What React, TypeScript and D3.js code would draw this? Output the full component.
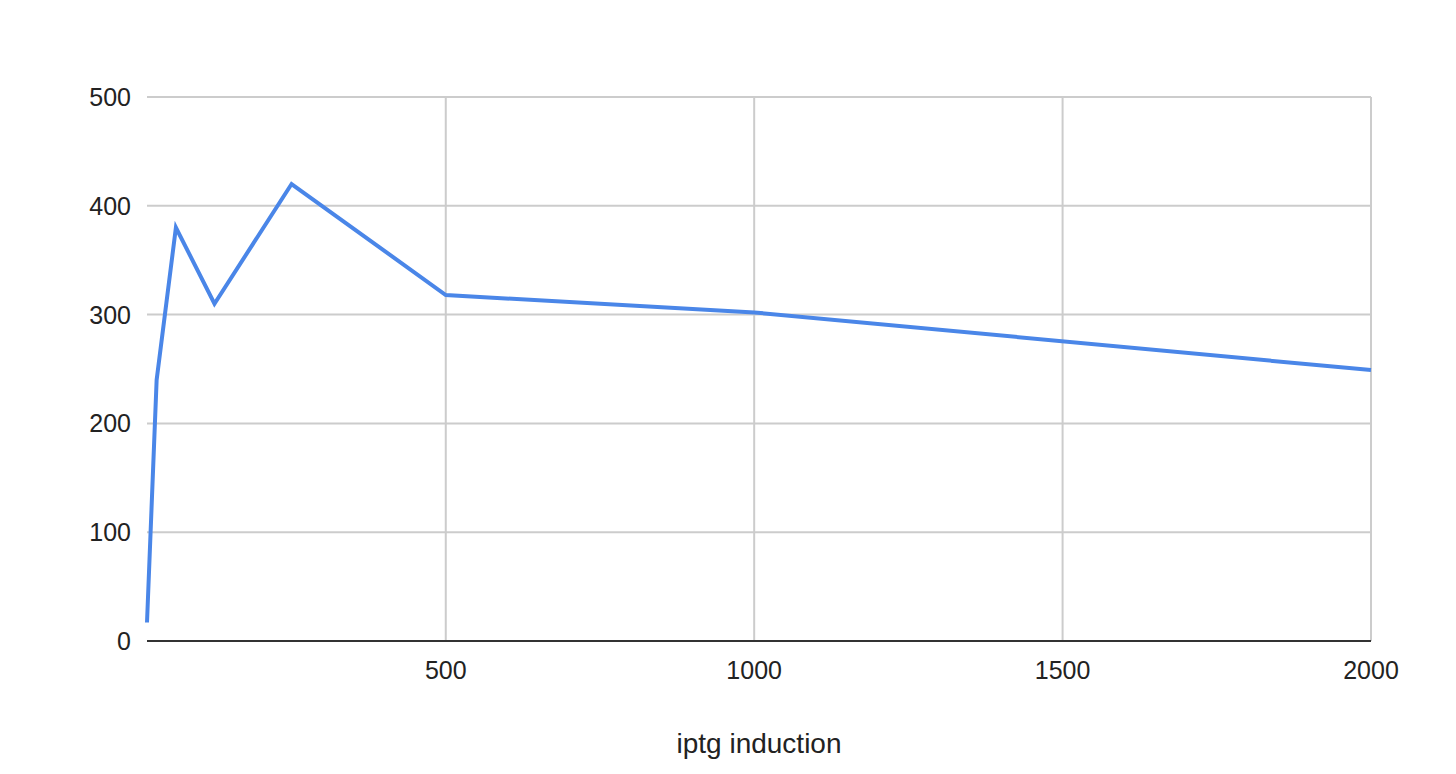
import React from "react";
import * as d3 from "d3";

const xValues = [15.625, 31.25, 62.5, 125, 250, 500, 1000, 2000];
const yValues = [17, 240, 380, 310, 420, 318, 302, 249];
const xTicks = [500, 1000, 1500, 2000];
const yTicks = [0, 100, 200, 300, 400, 500];
const xTitle = "iptg induction";

const W = 1456;
const H = 774;

export default function App() {
  const x = d3.scaleLinear().domain([15.625, 2000]).range([147, 1371]);
  const y = d3.scaleLinear().domain([0, 500]).range([641, 97]);
  const pts: [number, number][] = xValues.map((v, i) => [v, yValues[i]]);
  const line = d3
    .line<[number, number]>()
    .x((d) => x(d[0]))
    .y((d) => y(d[1]));
  const font = "'Liberation Sans', Arial, sans-serif";
  return (
    <svg
      width={W}
      height={H}
      style={{ position: "absolute", left: 0, top: 0, background: "#fff" }}
      fontFamily={font}
    >
      <rect x={0} y={0} width={W} height={H} fill="#fff" />
      {yTicks
        .filter((t) => t !== 0)
        .map((t) => (
          <line
            key={"gy" + t}
            x1={x(15.625)}
            x2={x(2000)}
            y1={y(t)}
            y2={y(t)}
            stroke="#cccccc"
            strokeWidth={2}
          />
        ))}
      {xTicks.map((t) => (
        <line
          key={"gx" + t}
          x1={x(t)}
          x2={x(t)}
          y1={y(0)}
          y2={y(500)}
          stroke="#cccccc"
          strokeWidth={2}
        />
      ))}
      <line
        x1={x(15.625)}
        x2={x(2000)}
        y1={y(0)}
        y2={y(0)}
        stroke="#333333"
        strokeWidth={2}
      />
      <path
        d={line(pts) || ""}
        fill="none"
        stroke="#4a86e8"
        strokeWidth={4}
        strokeLinejoin="miter"
      />
      {yTicks.map((t) => (
        <text
          key={"ly" + t}
          x={131}
          y={y(t) + 9}
          textAnchor="end"
          fontSize={25}
          fill="#222"
        >
          {t}
        </text>
      ))}
      {xTicks.map((t) => (
        <text
          key={"lx" + t}
          x={x(t)}
          y={679}
          textAnchor="middle"
          fontSize={25}
          fill="#222"
        >
          {t}
        </text>
      ))}
      <text x={759} y={753} textAnchor="middle" fontSize={28} fill="#222">
        {xTitle}
      </text>
    </svg>
  );
}
